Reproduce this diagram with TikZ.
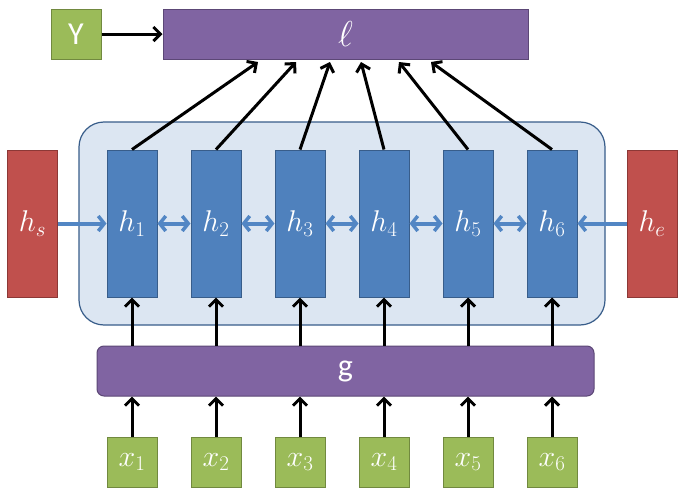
\documentclass[tikz,border=0pt]{standalone}
\usepackage{fix-cm}
\usepackage{fontspec}
\setmainfont{Carlito}
\usetikzlibrary{arrows.meta}
\definecolor{purp}{HTML}{8064A2}
\definecolor{purpd}{HTML}{5C4776}
\definecolor{grn}{HTML}{9BBB59}
\definecolor{grnd}{HTML}{71893F}
\definecolor{redf}{HTML}{C0504D}
\definecolor{redd}{HTML}{8C3836}
\definecolor{blu}{HTML}{4F81BD}
\definecolor{blud}{HTML}{385D8A}
\definecolor{cont}{HTML}{DCE6F2}
\definecolor{barrow}{HTML}{5286C4}
\tikzset{
  pbox/.style={draw=purpd, fill=purp, line width=1pt, text=white, inner sep=0pt},
  gbox/.style={draw=grnd, fill=grn, line width=1pt, text=white, inner sep=0pt, minimum width=50pt, minimum height=50pt, font=\fontsize{30}{34}\selectfont},
  rbox/.style={draw=redd, fill=redf, line width=1pt, text=white, inner sep=0pt, minimum width=50pt, minimum height=147pt, font=\fontsize{30}{36}\selectfont},
  hbox/.style={draw=blud, fill=blu, line width=1pt, text=white, inner sep=0pt, minimum width=50pt, minimum height=147pt, font=\fontsize{30}{36}\selectfont},
  blk/.style={line width=3pt, black, -{Straight Barb[length=7pt,width=14pt,line width=3pt]}},
  bla/.style={line width=4pt, barrow, -{Straight Barb[length=6pt,width=15pt,line width=3.5pt]}},
  blb/.style={line width=4pt, barrow, {Straight Barb[length=6pt,width=15pt,line width=3.5pt]}-{Straight Barb[length=6pt,width=15pt,line width=3.5pt]}},
}
\begin{document}
\begin{tikzpicture}[x=1pt,y=-1pt]
\useasboundingbox[fill=white] (0,0) rectangle (689,498);
% container
\node[draw=blud, fill=cont, line width=1.2pt, rounded corners=25pt, minimum width=526pt, minimum height=203pt, inner sep=0pt] (cont) at (342,223.5) {};
% top
\node[gbox, font=\fontsize{32}{34}\selectfont] (Y) at (76,34) {Y};
\node[pbox, minimum width=365pt, minimum height=50pt, font=\fontsize{36}{40}\selectfont] (L) at (345.5,34) {$\ell$};
% red boxes
\node[rbox] (hs) at (32.5,223.5) {$h_s$};
\node[rbox] (he) at (652,223.5) {$h_e$};
% h boxes
\foreach \i in {1,...,6} {
  \node[hbox] (h\i) at ({132+84*(\i-1)},223.5) {$h_{\i}$};
  \node[gbox] (x\i) at ({132+84*(\i-1)},462) {$x_{\i}$};
}
% g
\node[pbox, rounded corners=7pt, minimum width=497pt, minimum height=50pt, font=\fontsize{32}{34}\selectfont] (g) at (345.5,371) {g};
% coordinates on ell
\coordinate (l1) at (258,62);
\coordinate (l2) at (296,62);
\coordinate (l3) at (330,62);
\coordinate (l4) at (361,62);
\coordinate (l5) at (399,62);
\coordinate (l6) at (431,62);
% arrows
\draw[blk] (Y) -- (L);
\foreach \i in {1,...,6} {
  \draw[blk] (h\i.north) -- (l\i);
  \draw[blk] (g.north -| h\i) -- (h\i.south);
  \draw[blk] (x\i.north) -- (g.south -| x\i);
}
\draw[bla] (hs.east) -- (h1.west);
\draw[bla] (he.west) -- (h6.east);
\foreach \i/\j in {1/2,2/3,3/4,4/5,5/6} {
  \draw[blb] (h\i.east) -- (h\j.west);
}
\end{tikzpicture}
\end{document}
